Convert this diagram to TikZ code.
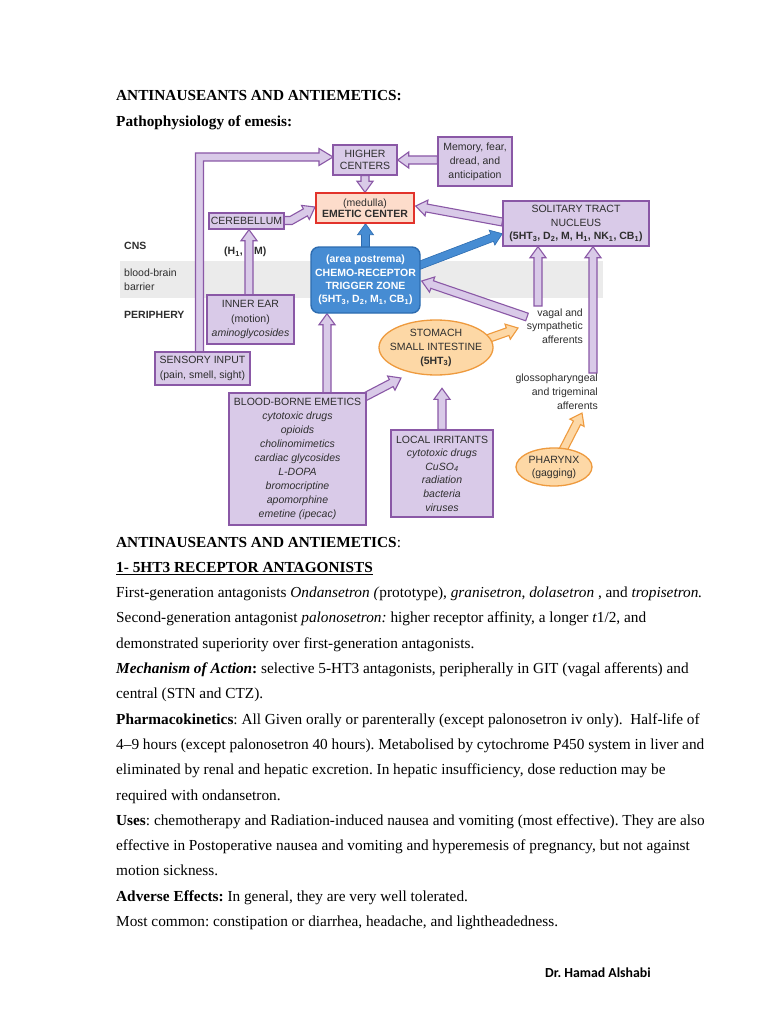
\documentclass[tikz,border=0pt]{standalone}
\usepackage{fontspec}
\setmainfont{Liberation Serif}
\newfontfamily\dfont{Liberation Sans}
\newfontfamily\sigfont{Carlito}
\usetikzlibrary{calc}
\definecolor{pborder}{HTML}{8A58A6}
\definecolor{pfill}{HTML}{D9CAE8}
\definecolor{bfill}{HTML}{468CD3}
\definecolor{bborder}{HTML}{2D6CB0}
\definecolor{ofill}{HTML}{FDD8A6}
\definecolor{oborder}{HTML}{EE9A3E}
\definecolor{efill}{HTML}{FDDCCB}
\definecolor{eborder}{HTML}{E2332B}
\definecolor{dtext}{HTML}{2E2E2E}
\definecolor{band}{HTML}{EBEBEB}
\pgfdeclarelayer{bandlayer}
\pgfdeclarelayer{arrlayer}
\pgfsetlayers{bandlayer,arrlayer,main}
\frenchspacing
\newcommand\farrow[3]{%
  \coordinate (fa-t) at #2; \coordinate (fa-h) at #3;
  \coordinate (fa-b) at ($(fa-h)!11pt!(fa-t)$);
  \filldraw[#1] ($(fa-t)!4pt!90:(fa-h)$) -- ($(fa-b)!4pt!-90:(fa-t)$) -- ($(fa-b)!8pt!-90:(fa-t)$) -- (fa-h) -- ($(fa-b)!8pt!90:(fa-t)$) -- ($(fa-b)!4pt!90:(fa-t)$) -- ($(fa-t)!4pt!-90:(fa-h)$) -- cycle;}
\tikzset{
 parrow/.style={fill=pfill, draw=pborder, line width=1.1pt, line join=miter},
 barrow/.style={fill=bfill, draw=bborder, line width=0.6pt, line join=miter},
 oarrow/.style={fill=ofill, draw=oborder, line width=1.1pt, line join=miter},
 pbox/.style={draw=pborder, fill=pfill, line width=1.4pt, inner sep=0pt, align=center, text=dtext},
 dsz/.style={font=\dfont\fontsize{10.5}{#1}\selectfont},
 body/.style={anchor=base west, inner sep=0pt, font=\fontsize{15.3}{18}\selectfont},
 lbl/.style={inner sep=0pt, text=dtext}
}
\begin{document}
\begin{tikzpicture}[x=1pt,y=-1pt]
\useasboundingbox (0,0) rectangle (768,1024);
\begin{pgfonlayer}{bandlayer}
\fill[white] (0,0) rectangle (768,1024);
\fill[band] (120,261) rectangle (603,298);
\end{pgfonlayer}

% ---------- text ----------
\node[body] (h1) at (116,101) {\textbf{ANTINAUSEANTS AND ANTIEMETICS:}};
\node[body] (h2) at (116,127) {\textbf{Pathophysiology of emesis:}};

\node[body] (l0) at (116,547.0) {\textbf{ANTINAUSEANTS AND ANTIEMETICS}:};
\node[body] (l1) at (116,572.3) {\underline{\textbf{1- 5HT3 RECEPTOR ANTAGONISTS}}};
\node[body] (l2) at (116,597.6) {First-generation antagonists \textit{Ondansetron (}prototype), \textit{granisetron}, \textit{dolasetron} , and \textit{tropisetron.}};
\node[body] (l3) at (116,622.9) {Second-generation antagonist \textit{palonosetron:} higher receptor affinity, a longer \textit{t}1/2, and};
\node[body] (l4) at (116,648.2) {demonstrated superiority over first-generation antagonists.};
\node[body] (l5) at (116,673.5) {\textbf{\textit{Mechanism of Action}:} selective 5-HT3 antagonists, peripherally in GIT (vagal afferents) and};
\node[body] (l6) at (116,698.8) {central (STN and CTZ).};
\node[body] (l7) at (116,724.1) {\textbf{Pharmacokinetics}: All Given orally or parenterally (except palonosetron iv only).~ Half-life of};
\node[body] (l8) at (116,749.4) {4--9 hours (except palonosetron 40 hours). Metabolised by cytochrome P450 system in liver and};
\node[body] (l9) at (116,774.7) {eliminated by renal and hepatic excretion. In hepatic insufficiency, dose reduction may be};
\node[body] (l10) at (116,800.0) {required with ondansetron.};
\node[body] (l11) at (116,825.3) {\textbf{Uses}: chemotherapy and Radiation-induced nausea and vomiting (most effective). They are also};
\node[body] (l12) at (116,850.6) {effective in Postoperative nausea and vomiting and hyperemesis of pregnancy, but not against};
\node[body] (l13) at (116,875.9) {motion sickness.};
\node[body] (l14) at (116,901.2) {\textbf{Adverse Effects:} In general, they are very well tolerated.};
\node[body] (l15) at (116,926.5) {Most common: constipation or diarrhea, headache, and lightheadedness.};
\node[anchor=base west, inner sep=0pt, font=\sigfont\bfseries\fontsize{13.8}{16}\selectfont] (sig) at (545,977.5) {Dr. Hamad Alshabi};

% ---------- diagram labels ----------
\node[lbl, dsz=14, anchor=west] (cns) at (124,246) {\textbf{CNS}};
\node[lbl, dsz=14, anchor=west, align=left] (bbb) at (124,280) {blood-brain\\barrier};
\node[lbl, dsz=14, anchor=west] (per) at (124,315) {\textbf{PERIPHERY}};
\node[lbl, dsz=14, anchor=east] (hm1) at (243,252) {\textbf{(H\textsubscript{1},}};
\node[lbl, dsz=14, anchor=west] (hm2) at (254,252) {\textbf{M)}};
\node[lbl, dsz=13.5, anchor=east, align=right] (vag) at (583,326) {vagal and\\sympathetic\\afferents};
\node[lbl, dsz=14, anchor=east, align=right] (glo) at (598,392) {glossopharyngeal\\and trigeminal\\afferents};

% ---------- boxes ----------
\node[pbox, dsz=12, minimum width=64pt, minimum height=30pt] (hc) at (365,160) {HIGHER\\CENTERS};
\node[pbox, dsz=14, minimum width=74pt, minimum height=49pt] (mem) at (475,161.5) {Memory, fear,\\dread, and\\anticipation};
\node[pbox, dsz=11.5, draw=eborder, fill=efill, minimum width=98pt, minimum height=30pt] (ec) at (365,208) {(medulla)\\\textbf{EMETIC CENTER}};
\node[pbox, dsz=12, minimum width=75pt, minimum height=16pt] (cer) at (246.5,221) {CEREBELLUM};
\node[pbox, dsz=13.5, minimum width=146pt, minimum height=45pt] (stn) at (576,223.5) {SOLITARY TRACT\\NUCLEUS\\\textbf{(5HT\textsubscript{3}, D\textsubscript{2}, M, H\textsubscript{1}, NK\textsubscript{1}, CB\textsubscript{1})}};
\node[pbox, dsz=13.3, draw=bborder, fill=bfill, text=white, rounded corners=8pt, minimum width=109pt, minimum height=66pt] (ctz) at (365.5,280) {\textbf{(area postrema)}\\\textbf{CHEMO-RECEPTOR}\\\textbf{TRIGGER ZONE}\\\textbf{(5HT\textsubscript{3}, D\textsubscript{2}, M\textsubscript{1}, CB\textsubscript{1})}};
\node[pbox, dsz=14.5, minimum width=87pt, minimum height=49pt] (ie) at (250.5,319.5) {INNER EAR\\(motion)\\\textit{aminoglycosides}};
\node[pbox, dsz=15, minimum width=95pt, minimum height=33pt] (si) at (202.5,368.5) {SENSORY INPUT\\(pain, smell, sight)};
\draw[draw=oborder, fill=ofill, line width=1.3pt] (436,347.5) ellipse [x radius=57, y radius=27.5];
\node[lbl, dsz=14, align=center] (stom) at (436,347.5) {STOMACH\\SMALL INTESTINE\\\textbf{(5HT\textsubscript{3})}};
\node[pbox, dsz=13.9, minimum width=137pt, minimum height=132pt] (bbe) at (297.5,459) {BLOOD-BORNE EMETICS\\\textit{cytotoxic drugs}\\\textit{opioids}\\\textit{cholinomimetics}\\\textit{cardiac glycosides}\\\textit{L-DOPA}\\\textit{bromocriptine}\\\textit{apomorphine}\\\textit{emetine (ipecac)}};
\node[pbox, dsz=13.6, minimum width=102pt, minimum height=87pt] (li) at (442,473.5) {LOCAL IRRITANTS\\\textit{cytotoxic drugs}\\\textit{CuSO\textsubscript{4}}\\\textit{radiation}\\\textit{bacteria}\\\textit{viruses}};
\draw[draw=oborder, fill=ofill, line width=1.3pt] (554,467) ellipse [x radius=38, y radius=19];
\node[lbl, dsz=13, align=center] (ph) at (554,467) {PHARYNX\\(gagging)};

% ---------- arrows ----------
\coordinate (vagT) at (527,317);
\coordinate (vagU) at (538,306);
\coordinate (gloU) at (593,373);
\coordinate (stomT) at (484,340);
\coordinate (vagL) at (518,328);
\coordinate (phT) at (562,452);
\coordinate (gloL) at (582,413);
\coordinate (bbeT) at (355,402);
\coordinate (stomL) at (401,378);
\begin{pgfonlayer}{arrlayer}
% sensory input -> higher centers
\filldraw[parrow] (195.5,360) -- (195.5,153) -- (319,153) -- (319,148.5) -- (333,157) -- (319,165.5) -- (319,161) -- (203.5,161) -- (203.5,360) -- cycle;
% cerebellum -> emetic center
\filldraw[parrow] (280,216.5) -- (289.9,216.5) -- (303.4,208.9) -- (301.5,205.4) -- (315,207) -- (309.3,219.4) -- (307.4,215.9) -- (292.1,224.5) -- (280,224.5) -- cycle;
\farrow{parrow}{(hc.south)}{(ec.north)}
\farrow{parrow}{(mem.west |- hc.east)}{(hc.east)}
\farrow{parrow}{($(ie.north)+(-1.5,2)$)}{($(ie.north |- cer.south)+(-1.5,0)$)}
\farrow{barrow}{($(ctz.north)+(0,2)$)}{(ctz.north |- ec.south)}
\farrow{parrow}{($(stn.west)+(0,-1.5)$)}{($(ec.east)+(1,-2)$)}
\farrow{barrow}{($(ctz.east)+(-3,-14)$)}{($(stn.south west)+(0,-13)$)}
\farrow{parrow}{(vagT)}{($(ctz.east)+(1,1)$)}
\farrow{parrow}{(vagU)}{(vagU |- stn.south)}
\farrow{parrow}{(gloU)}{(gloU |- stn.south)}
\farrow{oarrow}{(stomT)}{(vagL)}
\farrow{oarrow}{(phT)}{(gloL)}
\farrow{parrow}{($(bbe.north)+(29.5,2)$)}{($(bbe.north |- ctz.south)+(29.5,0)$)}
\farrow{parrow}{(bbeT)}{(stomL)}
\farrow{parrow}{(li.north)}{($(li.north)+(0,-41)$)}
\end{pgfonlayer}
\end{tikzpicture}
\end{document}
